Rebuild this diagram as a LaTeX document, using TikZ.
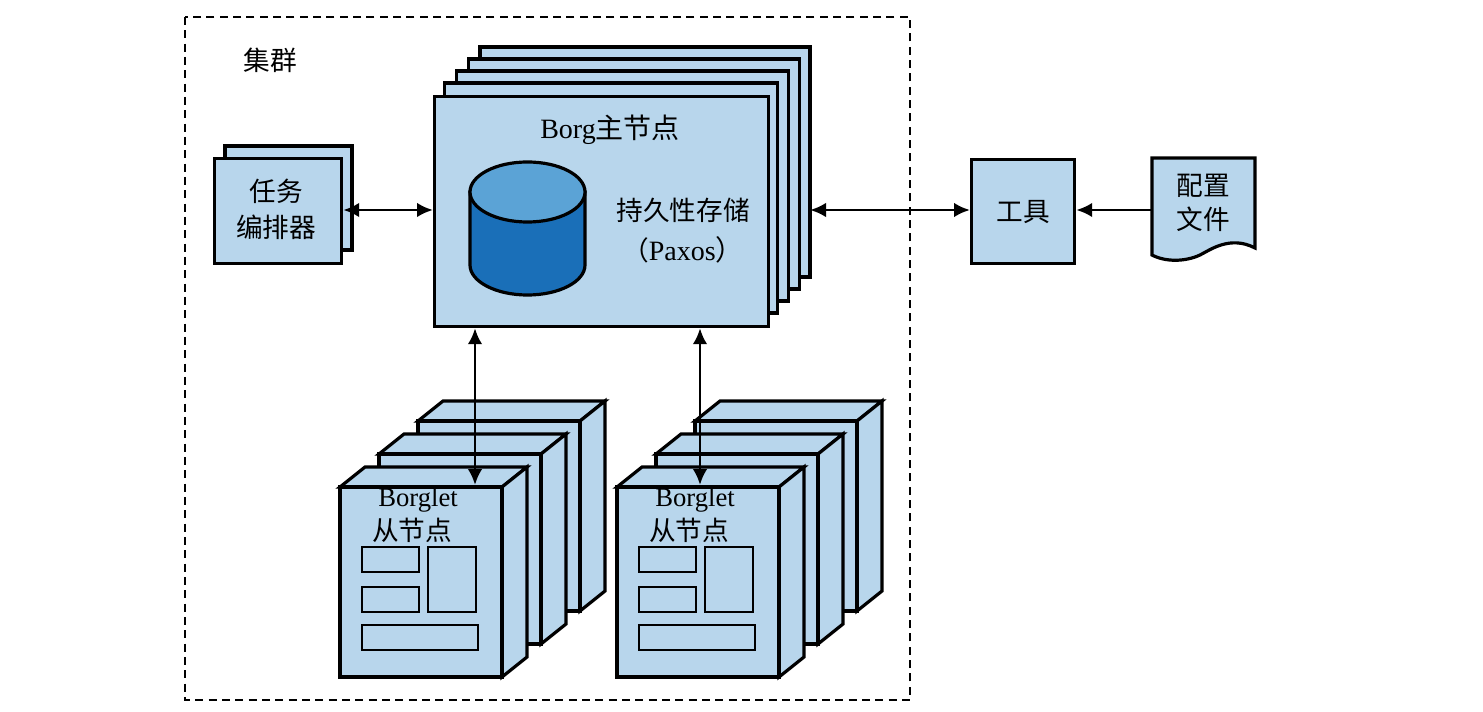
\documentclass[tikz,border=0pt]{standalone}
\usepackage{fontspec}
\setmainfont{Liberation Serif}
\newfontfamily\cjk{Noto Sans CJK SC}
\usetikzlibrary{arrows.meta}
\begin{document}
\begin{tikzpicture}[x=0.75pt,y=-0.75pt,
  bl/.style={fill=lb,draw=black,line width=2.4pt,line join=miter},
  arr/.style={line width=2.2pt,-{Latex[length=12pt,width=11pt]}},
  darr/.style={line width=2.2pt,{Latex[length=12pt,width=11pt]}-{Latex[length=12pt,width=11pt]}},
  lab/.style={font=\cjk\fontsize{20}{23}\selectfont,inner sep=0pt},
  slab/.style={font=\fontsize{20}{22}\selectfont,inner sep=0pt}]
\definecolor{lb}{RGB}{184,214,236}
\definecolor{cyltop}{RGB}{91,163,214}
\definecolor{cylbody}{RGB}{26,111,184}
\useasboundingbox (0,0) rectangle (1483,712);
% cluster
\draw[line width=2.2pt,dash pattern=on 6pt off 4pt] (185,17) rectangle (910,700);
\node[lab] (clu) at (270,60) {集群};
% master stack
\foreach \i in {4,3,2,1}{
  \draw[bl] (433+11.75*\i,95-12*\i) rectangle (767+10.75*\i,325-12*\i);}
\node[bl,minimum width=334*0.75pt,minimum height=230*0.75pt,anchor=north west,inner sep=0pt] (master) at (433,95) {};
\node[lab] (mt) at (610,130) {\rmfamily\fontsize{21}{23}\selectfont Borg\cjk 主节点};
\draw[bl,fill=cylbody] (470,192) -- (470,265) arc[start angle=180,end angle=0,x radius=57.5,y radius=30] -- (585,192) -- cycle;
\draw[bl,fill=cyltop] (527.5,192) ellipse[x radius=57.5,y radius=30];
\node[lab] (st) at (683,210) {持久性存储};
\node[lab] (px) at (683,250) {（\rmfamily\fontsize{21}{23}\selectfont Paxos\cjk ）};
% scheduler
\draw[bl] (225,146) rectangle (352,250);
\node[bl,minimum width=127*0.75pt,minimum height=105*0.75pt,anchor=north west,inner sep=0pt] (sched) at (213,157) {};
\node[lab,align=center] at (276,209) {任务\\[4pt]编排器};
% tools
\node[bl,minimum width=103*0.75pt,minimum height=104*0.75pt,anchor=north west,inner sep=0pt] (tools) at (970,158) {};
\node[lab] at (tools.center) {工具};
% config document
\draw[bl] (1152,158) -- (1255,158) -- (1255,248) .. controls (1230,235) and (1210,250) .. (1200,255) .. controls (1185,262) and (1165,262) .. (1152,255) -- cycle;
\coordinate (cfg) at (1152,210);
\coordinate (mr) at (810,210);
\node[lab,align=center] at (1203,203) {配置\\[2pt]文件};
% arrows top
\draw[darr] (sched.east |- cfg) -- (master.west |- cfg);
\draw[darr] (mr) -- (tools.west |- cfg);
\draw[arr] (cfg) -- (tools.east |- cfg);
% borglet stacks
\foreach \sx/\nm in {0/a,277/b}{
  \foreach \k in {2,1,0}{
    \pgfmathsetmacro\ox{340+\sx+39*\k}
    \pgfmathsetmacro\oy{487-33*\k}
    \draw[bl] (\ox,\oy) -- (\ox+25,\oy-20) -- (\ox+187,\oy-20) -- (\ox+162,\oy) -- cycle;
    \draw[bl] (\ox+162,\oy) -- (\ox+187,\oy-20) -- (\ox+187,\oy+170) -- (\ox+162,\oy+190) -- cycle;
    \draw[bl] (\ox,\oy) rectangle (\ox+162,\oy+190);
  }
  \node[slab] at (418+\sx,500) {Borglet};
  \node[lab] at (412+\sx,530) {从节点};
  \draw[line width=2.2pt] (362+\sx,547) rectangle (419+\sx,572);
  \draw[line width=2.2pt] (362+\sx,587) rectangle (419+\sx,612);
  \draw[line width=2.2pt] (428+\sx,547) rectangle (476+\sx,612);
  \draw[line width=2.2pt] (362+\sx,625) rectangle (478+\sx,650);
}
\coordinate (topa) at (475,485);
\coordinate (topb) at (700,485);
\draw[darr] (master.south -| topa) -- (topa);
\draw[darr] (master.south -| topb) -- (topb);
\end{tikzpicture}
\end{document}
